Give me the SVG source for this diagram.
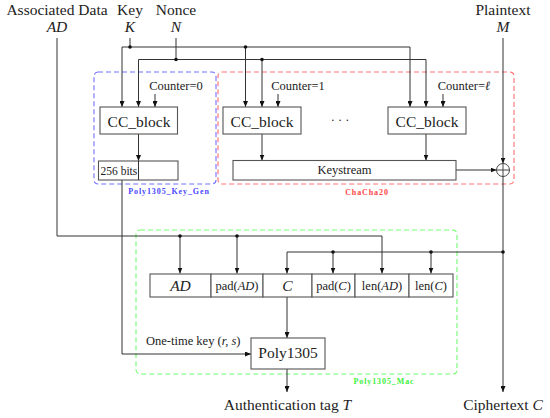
<svg xmlns="http://www.w3.org/2000/svg" width="550" height="418" viewBox="0 0 550 418">
<style>
text{font-family:"Liberation Serif","DejaVu Serif",serif;fill:#222}
.big{font-size:15.5px}
.mid{font-size:12.5px}
.sm{font-size:11.5px}
.it{font-style:italic}
.box{fill:#fff;stroke:#555;stroke-width:1.1}
.ln{fill:none;stroke:#333;stroke-width:1}
.dot{fill:#111}
.grp{fill:none;stroke-width:1.1;stroke-dasharray:5 3}
.lab{font-size:8px;font-weight:bold;letter-spacing:0.9px}
.lb{fill:#4848ff}
.lr{fill:#ff4848}
.lg{fill:#40f040}
</style>
<defs>
<marker id="ah" viewBox="0 0 6 5" refX="6" refY="2.5" markerWidth="6" markerHeight="5" markerUnits="userSpaceOnUse" orient="auto">
<path d="M0,0 L6,2.5 L0,5 Z" fill="#111"/>
</marker>
</defs>

<g id="inputs">
<text class="big" x="57" y="15" text-anchor="middle">Associated Data</text>
<text class="big it" x="57" y="32" text-anchor="middle">AD</text>
<text class="big" x="130" y="15" text-anchor="middle">Key</text>
<text class="big it" x="130" y="32" text-anchor="middle">K</text>
<text class="big" x="176" y="15" text-anchor="middle">Nonce</text>
<text class="big it" x="176" y="32" text-anchor="middle">N</text>
<text class="big" x="503" y="15" text-anchor="middle">Plaintext</text>
<text class="big it" x="503" y="32" text-anchor="middle">M</text>
</g>

<g id="groups">
<rect class="grp" x="94" y="72" width="122" height="112" rx="4" stroke="#7070ff"/>
<text class="lab lb" x="169" y="194" text-anchor="middle">Poly1305_Key_Gen</text>
<rect class="grp" x="218" y="72" width="296" height="112" rx="4" stroke="#ff7070"/>
<text class="lab lr" x="367" y="195" text-anchor="middle">ChaCha20</text>
<rect class="grp" x="136" y="230" width="321" height="144" rx="4" stroke="#70ff70"/>
<text class="lab lg" x="384" y="384" text-anchor="middle">Poly1305_Mac</text>
</g>

<g id="connectors">
<path class="ln" d="M130,38 V47"/>
<path class="ln" d="M122,47 H410"/>
<path class="ln" d="M122,47 V107" marker-end="url(#ah)"/>
<path class="ln" d="M245.5,47 V107" marker-end="url(#ah)"/>
<path class="ln" d="M410,47 V107" marker-end="url(#ah)"/>
<path class="ln" d="M176,38 V59.5"/>
<path class="ln" d="M138.5,59.5 H426"/>
<path class="ln" d="M138.5,59.5 V107" marker-end="url(#ah)"/>
<path class="ln" d="M262,59.5 V107" marker-end="url(#ah)"/>
<path class="ln" d="M426,59.5 V107" marker-end="url(#ah)"/>
<path class="ln" d="M155,94 V107" marker-end="url(#ah)"/>
<path class="ln" d="M278,94 V107" marker-end="url(#ah)"/>
<path class="ln" d="M443,94 V107" marker-end="url(#ah)"/>
<path class="ln" d="M138.5,134 V161" marker-end="url(#ah)"/>
<path class="ln" d="M262,134 V160.5" marker-end="url(#ah)"/>
<path class="ln" d="M426,134 V160.5" marker-end="url(#ah)"/>
<path class="ln" d="M122,180 V354 H251" marker-end="url(#ah)"/>
<path class="ln" d="M456,170 H496.5" marker-end="url(#ah)"/>
<path class="ln" d="M503,38 V163.5" marker-end="url(#ah)"/>
<path class="ln" d="M503,176.5 V392" marker-end="url(#ah)" stroke="#111" stroke-width="1.2"/>
<path class="ln" d="M503,252 H287 V273.5" marker-end="url(#ah)"/>
<path class="ln" d="M333,252 V273.5" marker-end="url(#ah)"/>
<path class="ln" d="M431,252 V273.5" marker-end="url(#ah)"/>
<path class="ln" d="M57,38 V236 H382 V273.5" marker-end="url(#ah)" stroke="#111" stroke-width="1.2"/>
<path class="ln" d="M180,236 V273.5" marker-end="url(#ah)"/>
<path class="ln" d="M237,236 V273.5" marker-end="url(#ah)"/>
<path class="ln" d="M287,297 V338" marker-end="url(#ah)"/>
<path class="ln" d="M287,369 V392" marker-end="url(#ah)"/>
<circle class="dot" cx="130" cy="47" r="1.8"/>
<circle class="dot" cx="245.5" cy="47" r="1.8"/>
<circle class="dot" cx="176" cy="59.5" r="1.8"/>
<circle class="dot" cx="262" cy="59.5" r="1.8"/>
<circle class="dot" cx="503" cy="252" r="1.8"/>
<circle class="dot" cx="333" cy="252" r="1.8"/>
<circle class="dot" cx="431" cy="252" r="1.8"/>
<circle class="dot" cx="180" cy="236" r="1.8"/>
<circle class="dot" cx="237" cy="236" r="1.8"/>
</g>

<g id="cc0">
<text class="mid" x="176" y="90" text-anchor="middle">Counter=0</text>
<rect class="box" x="100" y="107" width="77.5" height="27"/>
<text class="big" x="139" y="127" text-anchor="middle">CC_block</text>
</g>
<g id="cc1">
<text class="mid" x="298" y="90" text-anchor="middle">Counter=1</text>
<rect class="box" x="223" y="107" width="78" height="27"/>
<text class="big" x="262" y="127" text-anchor="middle">CC_block</text>
</g>
<g id="dots">
<text class="mid" x="340" y="124" text-anchor="middle">· · ·</text>
</g>
<g id="ccl">
<text class="mid" x="464" y="90" text-anchor="middle">Counter=<tspan font-style="italic">ℓ</tspan></text>
<rect class="box" x="388" y="107" width="78" height="27"/>
<text class="big" x="427" y="127" text-anchor="middle">CC_block</text>
</g>
<g id="bits256">
<rect class="box" x="98.5" y="161" width="79.5" height="19"/>
<path class="ln" d="M138.5,161 V180"/>
<text class="sm" x="100.5" y="174.5">256 bits</text>
</g>
<g id="keystream">
<rect class="box" x="233" y="160.5" width="223" height="19.5"/>
<text class="mid" x="344.5" y="174" text-anchor="middle">Keystream</text>
</g>
<g id="xor">
<circle cx="503" cy="170" r="6.5" fill="#fff" stroke="#444" stroke-width="1"/>
<path d="M496.5,170 H509.5 M503,163.5 V176.5" stroke="#444" stroke-width="1"/>
</g>
<g id="macinput">
<rect class="box" x="150" y="274" width="61" height="23"/>
<text class="big it" x="180.5" y="291" text-anchor="middle">AD</text>
<rect class="box" x="211" y="274" width="52" height="23"/>
<text class="mid" x="237" y="290" text-anchor="middle">pad(<tspan font-style="italic">AD</tspan>)</text>
<rect class="box" x="263" y="274" width="49" height="23"/>
<text class="big it" x="287.5" y="291" text-anchor="middle">C</text>
<rect class="box" x="312" y="274" width="43" height="23"/>
<text class="mid" x="333.5" y="290" text-anchor="middle">pad(<tspan font-style="italic">C</tspan>)</text>
<rect class="box" x="355" y="274" width="54" height="23"/>
<text class="mid" x="382" y="290" text-anchor="middle">len(<tspan font-style="italic">AD</tspan>)</text>
<rect class="box" x="409" y="274" width="44" height="23"/>
<text class="mid" x="431" y="290" text-anchor="middle">len(<tspan font-style="italic">C</tspan>)</text>
</g>
<g id="poly1305">
<text class="mid" x="146" y="345">One-time key (<tspan font-style="italic">r, s</tspan>)</text>
<rect class="box" x="251" y="338" width="74" height="31"/>
<text class="big" x="288" y="358" text-anchor="middle">Poly1305</text>
</g>
<g id="outputs">
<text class="big" x="287.5" y="410" text-anchor="middle">Authentication tag <tspan font-style="italic">T</tspan></text>
<text class="big" x="503" y="410" text-anchor="middle">Ciphertext <tspan font-style="italic">C</tspan></text>
</g>
</svg>
